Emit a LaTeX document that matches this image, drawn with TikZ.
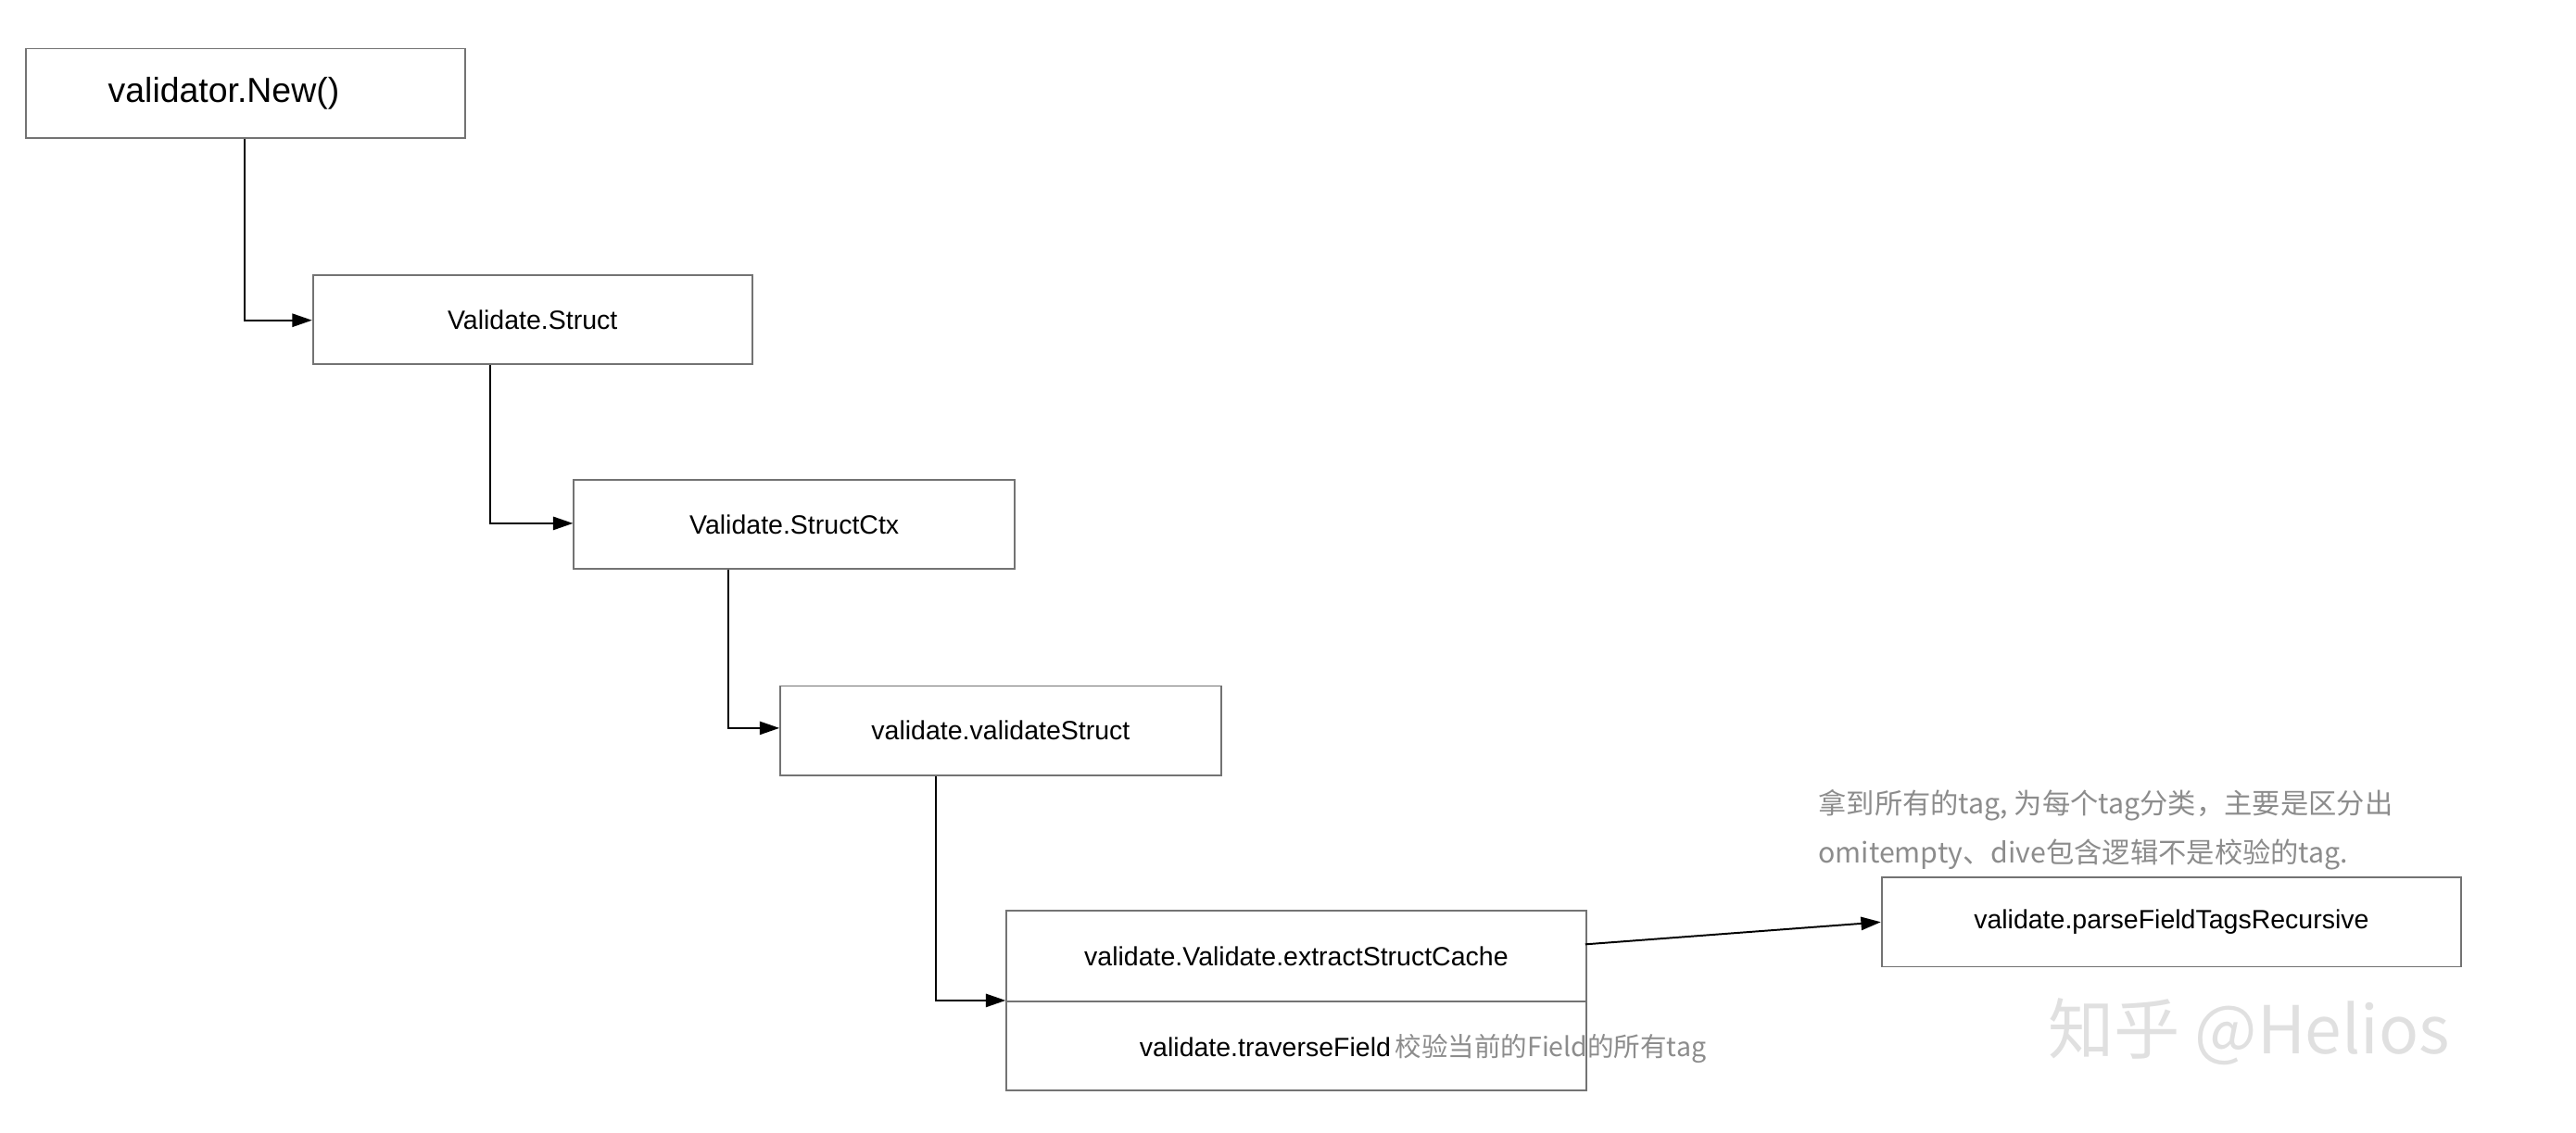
\documentclass[tikz,border=0pt]{standalone}
\usepackage{fontspec}
\setmainfont{Liberation Sans}
\newfontfamily\cjk{Noto Sans CJK SC}
\usetikzlibrary{arrows.meta}
\begin{document}
\begin{tikzpicture}[x=1pt,y=-1pt,
  box/.style={draw=black!55,line width=1pt,minimum height=54pt,inner sep=0pt,font=\fontsize{16}{18}\selectfont},
  conn/.style={line width=1.1pt,-{Triangle[length=12pt,width=8pt]}}]
\useasboundingbox (0,0) rectangle (1560,686);
\node[box,minimum width=266pt,font=\fontsize{21}{24}\selectfont,anchor=north west] (n1) at (15,29) {\hspace*{-26pt}validator.New()};
\node[box,minimum width=266pt,anchor=north west] (n2) at (189,166) {Validate.Struct};
\node[box,minimum width=267pt,anchor=north west] (n3) at (347,290) {Validate.StructCtx};
\node[box,minimum width=267pt,anchor=north west] (n4) at (472,415) {validate.validateStruct};
\node[box,minimum width=351pt,minimum height=55pt,anchor=north west] (n5) at (609,551) {validate.Validate.extractStructCache};
\node[box,minimum width=351pt,anchor=north west] (n5b) at (609,606) {};
\node[anchor=west,inner sep=0pt,font=\fontsize{16}{18}\selectfont] (t5b) at (690,635) {validate.traverseField\,{\cjk\color{black!45}校验当前的Field的所有tag}};
\node[box,minimum width=351pt,anchor=north west] (n6) at (1139,531) {validate.parseFieldTagsRecursive};
\node[anchor=north west,inner sep=0pt,align=left,font=\cjk\fontsize{17}{30}\selectfont,text=black!45] (ann) at (1101,478) {拿到所有的tag, 为每个tag分类，主要是区分出\\omitempty、dive包含逻辑不是校验的tag.};
\node[anchor=west,inner sep=0pt,font=\cjk\fontsize{40}{44}\selectfont,text=black!12] (wm) at (1240,625) {知乎 @Helios};
\coordinate (c1) at (148,194);
\coordinate (c2) at (297,317);
\coordinate (c3) at (441,441);
\coordinate (c4) at (567,606);
\draw[conn] (n1.south -| c1) -- (c1) -- (n2.west |- c1);
\draw[conn] (n2.south -| c2) -- (c2) -- (n3.west |- c2);
\draw[conn] (n3.south -| c3) -- (c3) -- (n4.west |- c3);
\draw[conn] (n4.south -| c4) -- (c4) -- (n5.west |- c4);
\draw[conn] (960,572) -- (n6.west);
\end{tikzpicture}
\end{document}
